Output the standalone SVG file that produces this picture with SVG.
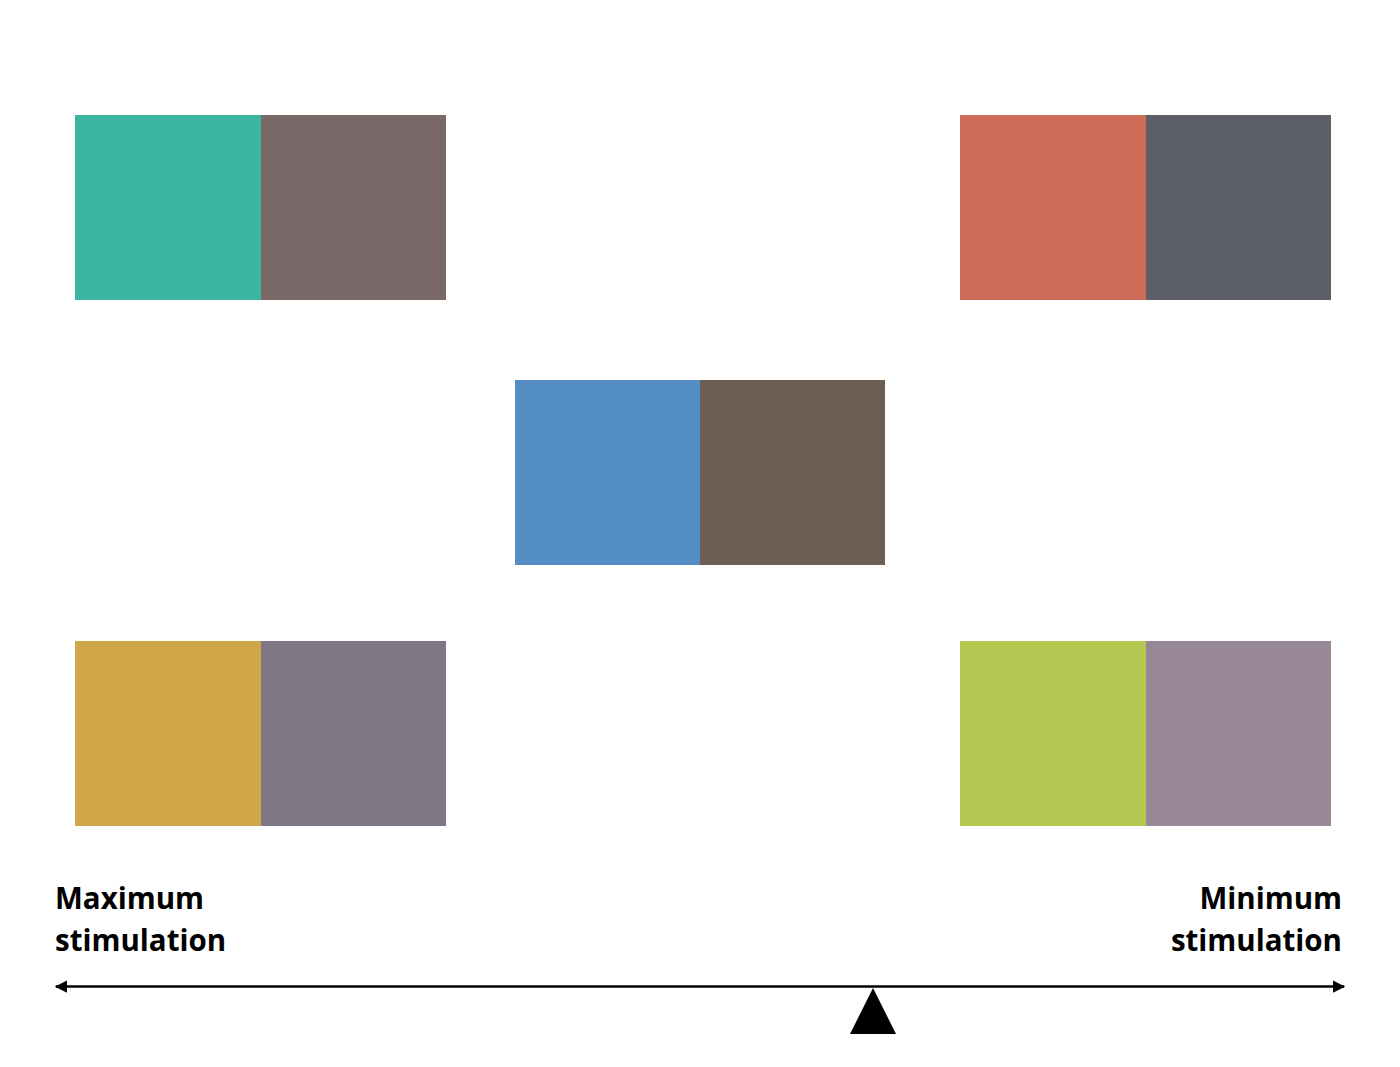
<svg xmlns="http://www.w3.org/2000/svg" width="1400" height="1067" viewBox="0 0 1400 1067">
<defs>
<style>
.lbl{font-family:"Open Sans","Liberation Sans",sans-serif;font-weight:700;font-size:29.5px;fill:#000;font-variant-ligatures:none}
.axis{stroke:#000;stroke-width:2.5;fill:none}
</style>
<marker id="ah" viewBox="0 0 10 10" refX="9" refY="5" markerWidth="5" markerHeight="5" orient="auto-start-reverse" markerUnits="strokeWidth">
<path d="M0,0 L10,5 L0,10 z" fill="#000"/>
</marker>
</defs>
<rect width="1400" height="1067" fill="#fff"/>
<g id="pair-top-left">
<rect x="75" y="115" width="186" height="185" fill="#3AB5A0"/>
<rect x="261" y="115" width="185" height="185" fill="#7A6868"/>
</g>
<g id="pair-top-right">
<rect x="960" y="115" width="186" height="185" fill="#CE6D57"/>
<rect x="1146" y="115" width="185" height="185" fill="#5C5F68"/>
</g>
<g id="pair-center">
<rect x="515" y="380" width="185" height="185" fill="#548EC5"/>
<rect x="700" y="380" width="185" height="185" fill="#6D5E52"/>
</g>
<g id="pair-bottom-left">
<rect x="75" y="641" width="186" height="185" fill="#CFA748"/>
<rect x="261" y="641" width="185" height="185" fill="#7F7686"/>
</g>
<g id="pair-bottom-right">
<rect x="960" y="641" width="186" height="185" fill="#B4C751"/>
<rect x="1146" y="641" width="185" height="185" fill="#988897"/>
</g>
<g id="label-max">
<text class="lbl" x="55" y="909">Maximum</text>
<text class="lbl" x="55" y="951">stimulation</text>
</g>
<g id="label-min">
<text class="lbl" x="1342" y="909" text-anchor="end">Minimum</text>
<text class="lbl" x="1342" y="951" text-anchor="end">stimulation</text>
</g>
<g id="connectors">
<line class="axis" x1="56" y1="986.5" x2="1344" y2="986.5" marker-start="url(#ah)" marker-end="url(#ah)"/>
</g>
<g id="fulcrum">
<polygon points="873,988 850,1034 896,1034" fill="#000"/>
</g>
</svg>
